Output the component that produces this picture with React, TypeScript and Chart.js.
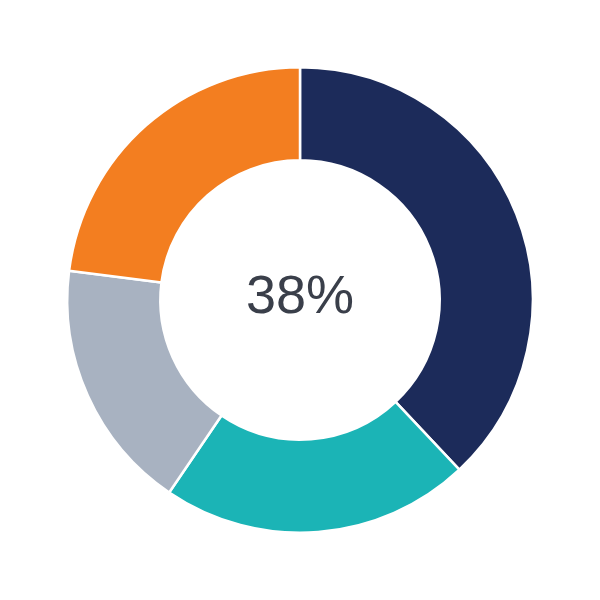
import React, { useEffect, useRef } from 'react';
import { Chart, registerables, Plugin } from 'chart.js';

Chart.register(...registerables);

const labels = ['Navy', 'Teal', 'Gray', 'Orange'];
const values = [38, 21.5, 17.5, 23];
const colors = ['#1c2b5a', '#1bb4b6', '#a8b2c1', '#f37e20'];
const centerText = '38%';

const centerLabel: Plugin<'doughnut'> = {
  id: 'centerLabel',
  afterDraw(chart) {
    const { ctx, chartArea } = chart;
    const x = (chartArea.left + chartArea.right) / 2;
    const y = (chartArea.top + chartArea.bottom) / 2;
    ctx.save();
    ctx.font = '54px "Liberation Sans", Arial, sans-serif';
    ctx.fillStyle = '#3a3f4a';
    ctx.textAlign = 'center';
    ctx.textBaseline = 'middle';
    ctx.fillText(centerText, x, y - 2);
    ctx.restore();
  },
};

const App: React.FC = () => {
  const canvasRef = useRef<HTMLCanvasElement>(null);
  const chartRef = useRef<Chart | null>(null);

  useEffect(() => {
    if (!canvasRef.current) return;
    if (chartRef.current) chartRef.current.destroy();
    chartRef.current = new Chart(canvasRef.current, {
      type: 'doughnut',
      data: {
        labels,
        datasets: [{
          data: values,
          backgroundColor: colors,
          borderColor: '#ffffff',
          borderWidth: 2.5,
        }],
      },
      options: {
        animation: false,
        responsive: true,
        maintainAspectRatio: false,
        cutout: '60%',
        layout: { padding: 58 },
        plugins: {
          legend: { display: false },
          tooltip: { enabled: false },
        },
      },
      plugins: [centerLabel],
    });
    return () => {
      chartRef.current?.destroy();
      chartRef.current = null;
    };
  }, []);

  return (
    <div style={{ width: 584, height: 584, position: 'relative' }}>
      <canvas ref={canvasRef}></canvas>
    </div>
  );
};

export default App;
